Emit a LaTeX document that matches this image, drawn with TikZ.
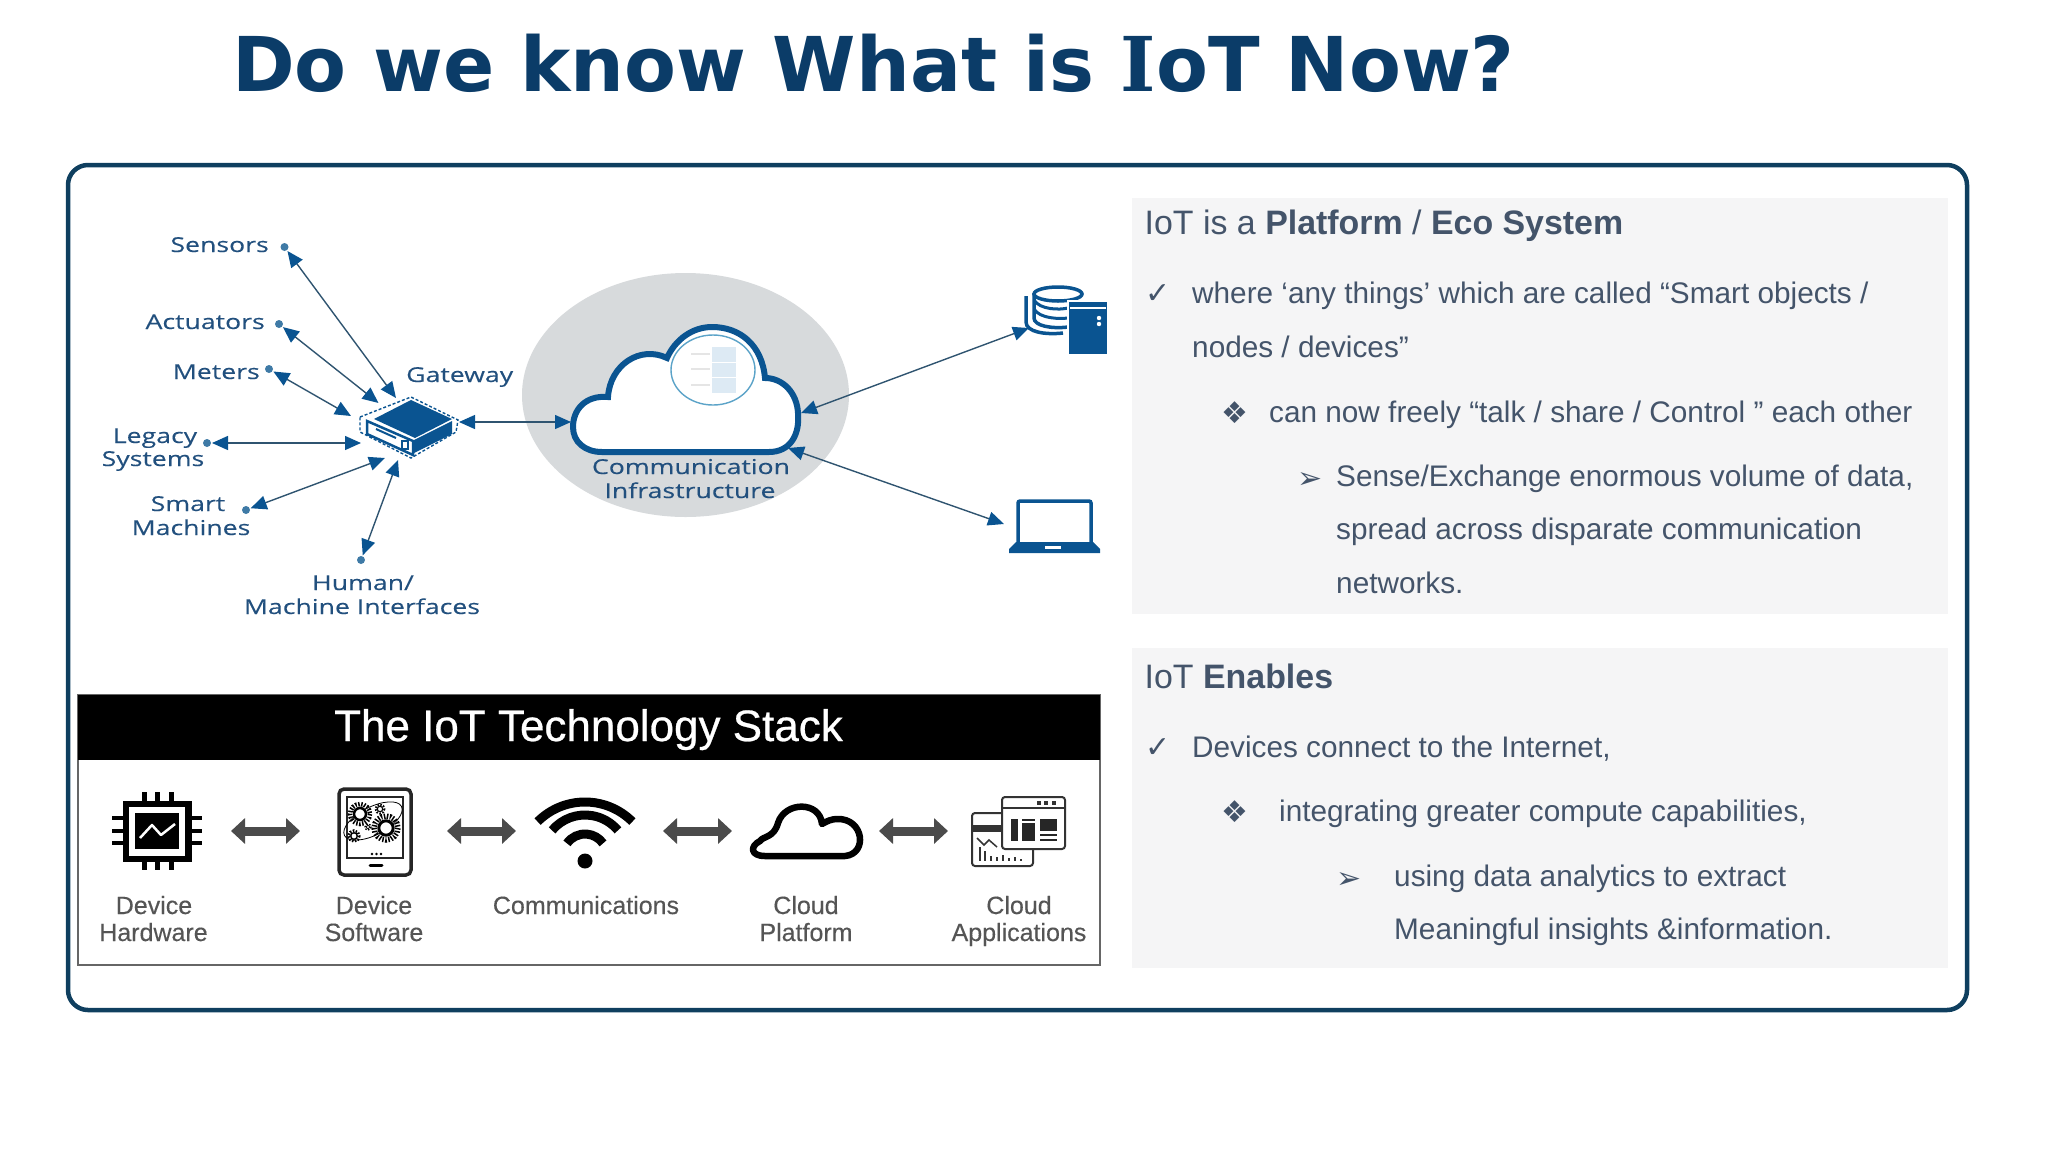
\documentclass[tikz,border=0pt]{standalone}
\usepackage{fontspec}
\usepackage{tikz}
\usetikzlibrary{arrows.meta,positioning}
\setmainfont{Liberation Sans}
\newfontfamily\titlefont{DejaVu Sans}
\newfontfamily\titleserif{DejaVu Serif}
\newfontfamily\symfont{DejaVu Sans}
\newfontfamily\widefont[FakeStretch=1.3,FakeBold=0.25]{Open Sans}
\newfontfamily\stackfont[FakeBold=0.6]{Liberation Sans}
\newfontfamily\captionfont[FakeBold=0.25]{Liberation Sans}
\definecolor{framenavy}{HTML}{0F3F5F}
\definecolor{titlenavy}{HTML}{0B3C68}
\definecolor{bodyslate}{HTML}{44546A}
\definecolor{panelgray}{HTML}{F5F5F6}
\definecolor{iotblue}{HTML}{0A5491}
\definecolor{dotblue}{HTML}{3F7AA6}
\definecolor{ringblue}{HTML}{5BA3C8}
\definecolor{paleblue}{HTML}{DDEAF4}
\definecolor{linkslate}{HTML}{2F5470}
\definecolor{labelblue}{HTML}{22507E}
\definecolor{ovalgray}{HTML}{D7DADC}
\definecolor{stackgray}{HTML}{4B4B4B}
\definecolor{captiongray}{HTML}{555555}
\newcommand{\cogwheel}[3]{%
  \draw[black, line width=#3*0.45pt, dash pattern=on 1.5pt off 1.5pt] (#1,#2) circle[radius=#3];
  \draw[black, line width=#3*0.25pt, fill=white] (#1,#2) circle[radius=#3*0.6];
}
\tikzset{
  >={Stealth[length=16pt,width=14pt,inset=0pt,color=iotblue]},
  headline/.style={
    anchor=base west, inner sep=0pt, text=bodyslate,
    font=\fontsize{33.9}{40}\selectfont
  },
  bodyline/.style={
    anchor=base west, inner sep=0pt, text=bodyslate,
    font=\fontsize{29.75}{36}\selectfont
  },
  bulletmark/.style={
    anchor=base west, inner sep=0pt, text=bodyslate,
    font=\symfont\fontsize{30}{36}\selectfont
  },
  panel/.style={fill=panelgray, draw=none},
  dotend/.style={
    circle, fill=dotblue, inner sep=0pt, minimum size=8pt, outer sep=1pt
  },
  link/.style={<->, draw=linkslate, line width=1.4pt},
  thing/.style={
    align=center, inner sep=0pt, text=labelblue,
    font=\widefont\fontsize{20.5}{24}\selectfont
  },
  slot/.style={
    inner sep=0pt, outer sep=0pt, minimum width=147pt, minimum height=40pt
  },
  caption/.style={
    anchor=base, align=center, inner sep=0pt, text=captiongray,
    font=\captionfont\fontsize{25}{28}\selectfont
  },
  stackarrow/.style={
    {Triangle[length=14pt,width=25pt]}-{Triangle[length=14pt,width=25pt]},
    draw=stackgray, line width=9pt
  },
}

\begin{document}
\begin{tikzpicture}[x=1pt,y=-1pt]
  \useasboundingbox (0,0) rectangle (2048,1152);
  \node[anchor=base west, inner sep=0pt, text=titlenavy, font=\titlefont\bfseries\fontsize{75.6}{90}\selectfont] (title) at (232,91) {Do we know What is {\titleserif\bfseries I}oT Now?};
  \draw[framenavy, line width=4.5pt, rounded corners=20pt] (68,165) rectangle (1967,1010);

  \fill[panel] (1132,198) rectangle (1948,614);
  \fill[panel] (1132,648) rectangle (1948,968);

  \node[headline] (platform) at (1144.5,234) {IoT is a \textbf{Platform} / \textbf{Eco System}};
  \node[bulletmark] (chka) at (1145,303) {✓};
  \node[bodyline] (wherea) at (1192,303) {where ‘any things’ which are called “Smart objects /};
  \node[bodyline] (whereb) at (1192,357) {nodes / devices”};
  \node[bulletmark] (diaa) at (1221,423) {❖};
  \node[bodyline] (talk) at (1269,422) {can now freely “talk / share / Control ” each other};
  \node[bulletmark] (arra) at (1297,488) {➢};
  \node[bodyline] (sensea) at (1336,486) {Sense/Exchange enormous volume of data,};
  \node[bodyline] (senseb) at (1336,539) {spread across disparate communication};
  \node[bodyline] (sensec) at (1336,593) {networks.};

  \node[headline] (enables) at (1144.5,688) {IoT \textbf{Enables}};
  \node[bulletmark] (chkb) at (1145,757) {✓};
  \node[bodyline] (devices) at (1192,757) {Devices connect to the Internet,};
  \node[bulletmark] (diab) at (1221,822) {❖};
  \node[bodyline] (compute) at (1279,821) {integrating greater compute capabilities,};
  \node[bulletmark] (arrb) at (1336,888) {➢};
  \node[bodyline] (usinga) at (1394,886) {using data analytics to extract};
  \node[bodyline] (usingb) at (1394,939) {Meaningful insights \&information.};

  \fill[ovalgray] (685.5,395) ellipse[x radius=163.5, y radius=122];
  \draw[iotblue, line width=6pt, fill=white] (602,452) -- (769,452)
    .. controls (790,452) and (800,435) .. (798,413)
    .. controls (797,393) and (783,378) .. (765,378)
    .. controls (762,345) and (740,327) .. (712,327)
    .. controls (692,327) and (675,340) .. (667,358)
    .. controls (640,345) and (610,365) .. (608,397)
    .. controls (585,395) and (573,410) .. (573,427)
    .. controls (573,442) and (585,452) .. (602,452) -- cycle;
  \draw[ringblue, line width=1.4pt] (713,370) ellipse[x radius=42, y radius=35];
  \fill[paleblue] (712,347) rectangle (736,362);
  \fill[paleblue] (712,363) rectangle (736,377);
  \fill[paleblue] (712,378) rectangle (736,393);
  \foreach \by in {354,369,385} \draw[black!10, line width=2.5pt] (691,\by) -- (710,\by);
  \node[thing, anchor=base] (commu) at (691,474) {Communication};
  \node[thing, anchor=base] (infra) at (690,498) {Infrastructure};

  \draw[iotblue, line width=3.5pt] (1026,296) -- (1026,322) .. controls (1026,332) and (1045,335) .. (1063,333);
  \draw[iotblue, line width=3.5pt] (1034,293) -- (1034,318) .. controls (1034,326) and (1052,329) .. (1068,327);
  \draw[iotblue, line width=3pt] (1034,300) .. controls (1040,310) and (1060,310) .. (1068,308);
  \draw[iotblue, line width=3pt] (1034,309) .. controls (1040,319) and (1060,319) .. (1068,318);
  \draw[iotblue, line width=3.5pt, fill=white] (1058,294) ellipse[x radius=24, y radius=7];
  \draw[white, line width=2pt, fill=iotblue] (1068,301) rectangle (1108,355);
  \draw[white, line width=2.5pt] (1070,308) -- (1106,308);
  \fill[white] (1099,318) circle[radius=2.2];
  \fill[white] (1099,324) circle[radius=2.2];

  \draw[iotblue, line width=3.5pt, rounded corners=2pt] (1018,545) -- (1018,501) -- (1091,501) -- (1091,545);
  \fill[iotblue] (1009,553) -- (1009,549) -- (1016,542) -- (1093,542) -- (1100,549) -- (1100,553) -- cycle;
  \fill[white] (1045,546) rectangle (1061,549);

  \draw[iotblue, line width=1.4pt, densely dashed] (360,417) -- (411,397) -- (458,420) -- (456,432) -- (411,458) -- (360,432) -- cycle;
  \fill[iotblue] (374,419) -- (411,400) -- (452,419) -- (415,438) -- cycle;
  \fill[iotblue] (414,440) -- (452,421) -- (452,434) -- (414,453) -- cycle;
  \draw[iotblue, line width=2.5pt, fill=white] (367,421) -- (413,441) -- (413,455) -- (367,434) -- cycle;
  \draw[iotblue, line width=2pt] (376,429) -- (396,438);
  \draw[iotblue, line width=1.5pt] (402,441) rectangle (408,449);
  \node[thing, anchor=base west] (gwlabel) at (406,382) {Gateway};

  \node[dotend] (sensdot) at (284.5,247) {};
  \node[dotend] (actdot) at (279,324) {};
  \node[dotend] (metdot) at (269,369) {};
  \node[dotend] (legdot) at (207,443) {};
  \node[dotend] (smadot) at (246,510) {};
  \node[dotend] (humdot) at (361,560) {};
  \node[thing, anchor=base east] (senslabel) at (269,252) {Sensors};
  \node[thing, anchor=base east] (actlabel) at (265,329) {Actuators};
  \node[thing, anchor=base east] (metlabel) at (260,379) {Meters};
  \node[thing, anchor=base] (leglabel) at (155,443) {Legacy};
  \node[thing, anchor=base] (leglabelb) at (153,466) {Systems};
  \node[thing, anchor=base] (smalabel) at (188,511) {Smart};
  \node[thing, anchor=base] (smalabelb) at (191,535) {Machines};
  \node[thing, anchor=base] (humlabel) at (363,590) {Human/};
  \node[thing, anchor=base] (humlabelb) at (362,614) {Machine Interfaces};

  \coordinate (gwa) at (396,398);
  \coordinate (gwb) at (378.5,403);
  \coordinate (gwc) at (351,416);
  \coordinate (gwd) at (361,443);
  \coordinate (gwe) at (385,458);
  \coordinate (gwf) at (398,460);
  \coordinate (gwg) at (459,422);
  \coordinate (cla) at (571,422);
  \coordinate (clb) at (801,413);
  \coordinate (clc) at (788,448);
  \coordinate (srv) at (1029,328);
  \coordinate (lap) at (1004,524);
  \draw[link] (sensdot) -- (gwa);
  \draw[link] (actdot) -- (gwb);
  \draw[link] (metdot) -- (gwc);
  \draw[link] (legdot) -- (gwd);
  \draw[link] (smadot) -- (gwe);
  \draw[link] (humdot) -- (gwf);
  \draw[link] (gwg) -- (cla);
  \draw[link] (clb) -- (srv);
  \draw[link] (clc) -- (lap);

  \draw[black!60, line width=1.5pt, fill=white] (78,695) rectangle (1100,965);
  \fill[black] (78,695) rectangle (1100,760);
  \node[anchor=base, inner sep=0pt, text=white, font=\stackfont\fontsize{44}{50}\selectfont] (stacktitle) at (588.5,741) {The IoT Technology Stack};

  \node[slot] (hardware) at (157.5,831) {};
  \node[slot, right=69pt of hardware] (software) {};
  \node[slot, right=69pt of software] (wifi) {};
  \node[slot, right=69pt of wifi] (platformicon) {};
  \node[slot, right=69pt of platformicon] (apps) {};
  \draw[stackarrow] (hardware) -- (software);
  \draw[stackarrow] (software) -- (wifi);
  \draw[stackarrow] (wifi) -- (platformicon);
  \draw[stackarrow] (platformicon) -- (apps);

  \foreach \px in {144,157,171} \draw[black, line width=5pt] (\px,792) -- (\px,870);
  \foreach \py in {818,831,843} \draw[black, line width=4.5pt] (112,\py) -- (202,\py);
  \fill[black] (122.5,801) rectangle (191.5,862);
  \fill[white] (129,807) rectangle (185,856);
  \fill[black] (135,813) rectangle (179,849);
  \draw[white, line width=2.5pt, line join=round] (140,838) -- (152,825) -- (161,835) -- (175,824);

  \draw[black!85, line width=3.5pt, rounded corners=5pt] (339,789) rectangle (411,875);
  \draw[black!85, line width=1.2pt] (347,797) rectangle (403,858);
  \draw[black, line width=3pt, line cap=round] (370,865) -- (382,865);
  \foreach \dx in {372,376.5,381} \fill[black] (\dx,854) circle[radius=1.3];
  \draw[black, line width=0.8pt, rotate around={27:(373,821)}] (373,821) ellipse[x radius=32, y radius=14];
  \cogwheel{360}{814}{10}
  \cogwheel{386}{828}{12}
  \cogwheel{380}{809}{4.5}
  \cogwheel{354}{836}{5.5}
  \cogwheel{368}{827}{3}

  \fill[black] (585,861) circle[radius=7.5];
  \foreach \r/\cy/\a in {67/869/45, 43/858/50, 22/856/55}
    \draw[black, line width=9pt] ([shift={(-90-\a:\r)}]585,\cy) arc[start angle=-90-\a, end angle=-90+\a, radius=\r];

  \draw[black, line width=6.5pt, line join=round, fill=white] (765,856) -- (845,856)
    .. controls (868,854) and (864,818) .. (837,819)
    .. controls (832,819) and (827,821) .. (822,824)
    .. controls (820,801) and (785,801) .. (778,823)
    .. controls (774,838) and (763,836) .. (760,841)
    .. controls (750,846) and (750,856) .. (765,856) -- cycle;

  \draw[black!80, line width=2pt, rounded corners=3pt, fill=white] (972,813) rectangle (1033,866);
  \fill[black!80] (972,825) rectangle (1033,832);
  \draw[black!80, line width=1.5pt] (977,838) -- (984,845) -- (989,840) -- (997,847);
  \foreach \bx/\bh in {979/14,984/10,990/5,996/4,1002/6,1008/3,1014/4,1020/2}
    \fill[black!80] (\bx,861) rectangle (\bx+2,861-\bh);
  \draw[black!80, line width=2pt, rounded corners=3pt, fill=white] (1002,797) rectangle (1065,849);
  \draw[black!80, line width=2pt] (1002,808) -- (1065,808);
  \foreach \dx in {1039,1046,1054} \fill[black!80] (\dx-2,801) rectangle (\dx+2,805);
  \fill[black!85] (1011,819) rectangle (1018,841);
  \fill[black!85] (1022,823) rectangle (1035,841);
  \draw[black!85, line width=1.5pt] (1022,820) -- (1035,820);
  \fill[black!85] (1040,819) rectangle (1057,831);
  \draw[black!85, line width=1.5pt] (1040,835) -- (1057,835);
  \draw[black!85, line width=1.5pt] (1040,840) -- (1057,840);

  \node[caption] (hwa) at (154,914) {Device};
  \node[caption] (hwb) at (153.5,941) {Hardware};
  \node[caption] (swa) at (374,914) {Device};
  \node[caption] (swb) at (374,941) {Software};
  \node[caption] (comm) at (586,914) {Communications};
  \node[caption] (pfa) at (806,914) {Cloud};
  \node[caption] (pfb) at (806,941) {Platform};
  \node[caption] (apa) at (1019,914) {Cloud};
  \node[caption] (apb) at (1019,941) {Applications};
\end{tikzpicture}
\end{document}
